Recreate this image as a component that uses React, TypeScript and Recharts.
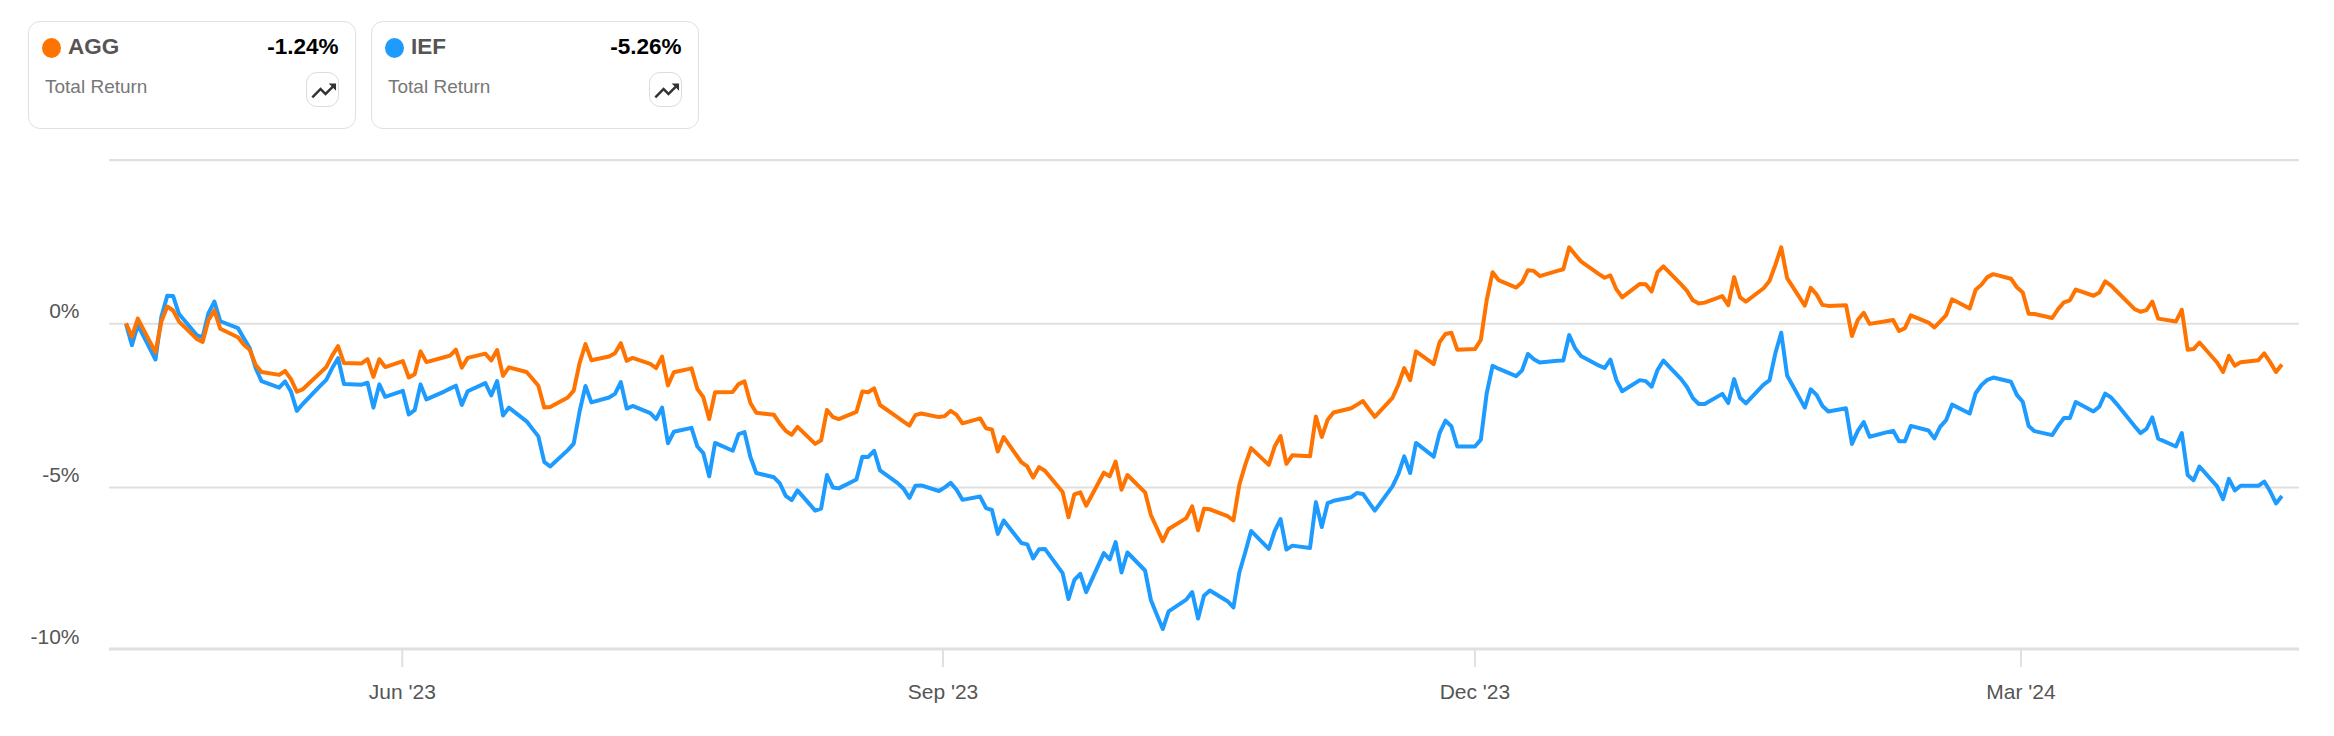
import { CartesianGrid, Line, LineChart, XAxis, YAxis } from "recharts";

const tradingDays = [
  0, 1, 2, 5, 6, 7, 8, 9, 12, 13,
  14, 15, 16, 19, 20, 21, 22, 23, 26, 27,
  28, 29, 30, 33, 34, 35, 36, 37, 40, 41,
  42, 43, 44, 47, 48, 49, 50, 51, 54, 55,
  56, 57, 58, 61, 62, 63, 64, 65, 68, 69,
  70, 71, 72, 75, 76, 77, 78, 79, 82, 83,
  84, 85, 86, 89, 90, 91, 92, 93, 96, 97,
  98, 99, 100, 103, 104, 105, 106, 107, 110, 111,
  112, 113, 114, 117, 118, 119, 120, 121, 124, 125,
  126, 127, 128, 131, 132, 133, 134, 135, 138, 139,
  140, 141, 142, 145, 146, 147, 148, 149, 152, 153,
  154, 155, 156, 159, 160, 161, 162, 163, 166, 167,
  168, 169, 170, 173, 174, 175, 176, 177, 180, 181,
  182, 183, 184, 187, 188, 189, 190, 191, 194, 195,
  196, 197, 198, 201, 202, 203, 204, 205, 208, 209,
  210, 211, 212, 215, 216, 217, 218, 219, 222, 223,
  224, 225, 226, 229, 230, 231, 232, 233, 236, 237,
  238, 239, 240, 243, 244, 245, 246, 247, 250, 251,
  252, 253, 254, 257, 258, 259, 260, 261, 264, 265,
  266, 267, 268, 271, 272, 273, 274, 275, 278, 279,
  280, 281, 282, 285, 286, 287, 288, 289, 292, 293,
  294, 295, 296, 299, 300, 301, 302, 303, 306, 307,
  308, 309, 310, 313, 314, 315, 316, 317, 320, 321,
  322, 323, 324, 327, 328, 329, 330, 331, 334, 335,
  336, 337, 338, 341, 342, 343, 344, 345, 348, 349,
  350, 351, 352, 355, 356, 357, 358, 359, 362, 363,
  364, 365, 366,
];

const aggReturns = [
  0.02, -0.39, 0.16, -0.87, 0.07, 0.53, 0.41, 0.07, -0.46, -0.55,
  0.12, 0.41, -0.15, -0.41, -0.64, -0.79, -1.25, -1.47, -1.56, -1.44,
  -1.69, -2.07, -2.0, -1.49, -1.32, -0.97, -0.68, -1.2, -1.21, -1.08,
  -1.62, -1.08, -1.32, -1.14, -1.64, -1.54, -0.84, -1.17, -1.02, -0.97,
  -0.79, -1.34, -1.04, -0.91, -1.12, -0.8, -1.59, -1.33, -1.47, -1.68,
  -1.89, -2.56, -2.54, -2.25, -2.04, -1.2, -0.62, -1.11, -1.0, -0.9,
  -0.59, -1.13, -1.04, -1.22, -1.35, -1.0, -1.88, -1.48, -1.36, -1.99,
  -2.24, -2.91, -2.09, -2.08, -1.84, -1.76, -2.42, -2.72, -2.78, -3.05,
  -3.27, -3.39, -3.15, -3.67, -3.56, -2.63, -2.85, -2.91, -2.69, -2.07,
  -2.09, -1.97, -2.48, -2.86, -2.99, -3.11, -2.79, -2.74, -2.85, -2.82,
  -2.66, -2.78, -3.04, -2.89, -3.19, -3.23, -3.9, -3.46, -4.23, -4.36,
  -4.7, -4.38, -4.49, -5.14, -5.91, -5.21, -5.15, -5.56, -4.55, -4.66,
  -4.21, -5.07, -4.62, -5.15, -5.85, -6.24, -6.64, -6.27, -5.94, -5.58,
  -6.31, -5.65, -5.67, -5.88, -6.01, -4.92, -4.31, -3.8, -4.31, -3.75,
  -3.43, -4.28, -4.02, -4.05, -2.83, -3.46, -2.93, -2.71, -2.58, -2.47,
  -2.36, -2.61, -2.84, -2.26, -1.86, -1.35, -1.72, -0.84, -1.23, -0.56,
  -0.31, -0.27, -0.79, -0.77, -0.49, 0.73, 1.58, 1.34, 1.11, 1.27,
  1.64, 1.62, 1.46, 1.62, 1.67, 2.34, 2.12, 1.91, 1.53, 1.41,
  1.48, 1.06, 0.81, 1.22, 1.21, 0.99, 1.58, 1.76, 1.21, 1.01,
  0.72, 0.62, 0.65, 0.85, 0.57, 1.43, 0.81, 0.68, 1.09, 1.31,
  1.8, 2.34, 1.4, 0.56, 1.1, 0.9, 0.58, 0.55, 0.57, -0.37,
  0.12, 0.34, 0.0, 0.09, 0.12, -0.22, -0.13, 0.26, 0.04, -0.11,
  0.08, 0.27, 0.75, 0.47, 1.04, 1.2, 1.43, 1.52, 1.38, 1.12,
  0.96, 0.31, 0.3, 0.18, 0.45, 0.66, 0.72, 1.05, 0.86, 0.96,
  1.3, 1.17, 0.99, 0.45, 0.37, 0.42, 0.68, 0.16, 0.07, 0.43,
  -0.79, -0.77, -0.57, -1.18, -1.47, -0.98, -1.28, -1.17, -1.11, -0.9,
  -1.17, -1.47, -1.24,
];

const iefReturns = [
  0.0, -0.65, -0.03, -1.09, 0.22, 0.86, 0.85, 0.3, -0.34, -0.41,
  0.33, 0.68, 0.08, -0.13, -0.44, -0.74, -1.35, -1.75, -1.95, -1.76,
  -2.07, -2.66, -2.45, -1.89, -1.71, -1.35, -1.05, -1.84, -1.86, -1.8,
  -2.56, -1.85, -2.23, -2.05, -2.77, -2.64, -1.85, -2.31, -2.07, -1.98,
  -1.89, -2.48, -2.06, -1.81, -2.19, -1.75, -2.8, -2.56, -2.98, -3.21,
  -3.44, -4.22, -4.36, -3.86, -3.66, -2.68, -1.9, -2.4, -2.25, -2.14,
  -1.78, -2.59, -2.51, -2.73, -2.91, -2.56, -3.65, -3.3, -3.18, -3.75,
  -3.95, -4.66, -3.64, -3.88, -3.37, -3.31, -4.07, -4.56, -4.69, -4.88,
  -5.26, -5.39, -5.09, -5.71, -5.65, -4.62, -5.0, -5.03, -4.76, -4.06,
  -4.07, -3.88, -4.48, -4.87, -5.04, -5.32, -4.95, -4.94, -5.11, -5.0,
  -4.86, -5.07, -5.38, -5.28, -5.63, -5.69, -6.42, -6.01, -6.7, -6.74,
  -7.17, -6.89, -6.88, -7.62, -8.41, -7.83, -7.64, -8.2, -7.01, -7.2,
  -6.67, -7.6, -6.99, -7.54, -8.45, -8.89, -9.33, -8.79, -8.43, -8.2,
  -9.01, -8.31, -8.15, -8.48, -8.67, -7.6, -6.99, -6.33, -6.88, -6.34,
  -5.97, -6.9, -6.78, -6.85, -5.45, -6.21, -5.48, -5.41, -5.3, -5.17,
  -5.2, -5.46, -5.71, -4.97, -4.59, -4.05, -4.56, -3.64, -4.06, -3.34,
  -2.96, -3.13, -3.75, -3.75, -3.54, -2.12, -1.28, -1.37, -1.6, -1.42,
  -0.92, -1.08, -1.18, -1.13, -1.12, -0.34, -0.74, -0.98, -1.27, -1.35,
  -1.09, -1.71, -2.06, -1.72, -1.75, -1.92, -1.41, -1.12, -1.69, -1.93,
  -2.27, -2.45, -2.45, -2.14, -2.42, -1.69, -2.26, -2.43, -1.86, -1.73,
  -0.9, -0.27, -1.58, -2.56, -2.0, -2.17, -2.51, -2.68, -2.58, -3.67,
  -3.27, -3.0, -3.45, -3.31, -3.27, -3.59, -3.59, -3.12, -3.26, -3.5,
  -3.14, -2.94, -2.47, -2.74, -2.12, -1.87, -1.71, -1.64, -1.77, -2.17,
  -2.38, -3.12, -3.28, -3.4, -3.12, -2.88, -2.88, -2.39, -2.68, -2.53,
  -2.13, -2.25, -2.46, -3.13, -3.34, -3.21, -2.86, -3.51, -3.75, -3.34,
  -4.62, -4.78, -4.36, -4.97, -5.36, -4.74, -5.09, -4.95, -4.95, -4.82,
  -5.12, -5.49, -5.26,
];

const xTicks = [46.9, 138.7, 229, 321.7];
const xLabels = ["Jun '23", "Sep '23", "Dec '23", "Mar '24"];
const yTicks = [5, 0, -5, -9.94];
const yLabels = ["", "0%", "-5%", "-10%"];

const cards = [
  { ticker: "AGG", value: "-1.24%", metric: "Total Return", color: "#ff7300", left: 28 },
  { ticker: "IEF", value: "-5.26%", metric: "Total Return", color: "#1e9bff", left: 371 },
];

const data = tradingDays.map((day, i) => ({
  day,
  agg: aggReturns[i],
  ief: iefReturns[i],
}));

const FONT = "'Liberation Sans', Arial, sans-serif";
const GREY = "#e0e0e0";

function YTick({ y, index }: any) {
  return (
    <text x={79.5} y={y - 5.5} textAnchor="end" fontSize={21} fontFamily={FONT} fill="#555">
      {yLabels[index]}
    </text>
  );
}

function XTick({ x, y, index }: any) {
  return (
    <text x={x} y={699} textAnchor="middle" fontSize={21} fontFamily={FONT} fill="#555">
      {xLabels[index]}
    </text>
  );
}

function Card({ ticker, value, metric, color, left }: (typeof cards)[number]) {
  return (
    <div
      style={{
        position: "absolute",
        left,
        top: 21,
        width: 326,
        height: 106,
        border: "1.5px solid #e0e0e0",
        borderRadius: 12,
        fontFamily: FONT,
        background: "#fff",
      }}
    >
      <span
        style={{
          position: "absolute",
          left: 12.5,
          top: 15.5,
          width: 19,
          height: 20,
          borderRadius: "50%",
          background: color,
        }}
      />
      <span style={{ position: "absolute", left: 39, top: 12, fontSize: 22.5, fontWeight: 700, color: "#555" }}>
        {ticker}
      </span>
      <span style={{ position: "absolute", right: 16.5, top: 12, fontSize: 22.5, fontWeight: 700, color: "#000" }}>
        {value}
      </span>
      <span style={{ position: "absolute", left: 16, top: 54, fontSize: 19, color: "#777" }}>{metric}</span>
      <div
        style={{
          position: "absolute",
          right: 16,
          top: 50,
          width: 33.5,
          height: 35,
          border: "1.5px solid #dcdcdc",
          borderRadius: 11,
          boxSizing: "border-box",
        }}
      >
        <svg width={29.5} height={29.5} viewBox="0 0 24 24" style={{ position: "absolute", left: 2, top: 3 }}>
          <path
            fill="#333"
            d="M16 6l2.29 2.29-4.88 4.88-4-4L2 16.59 3.41 18l6-6 4 4 6.3-6.29L22 12V6z"
          />
        </svg>
      </div>
    </div>
  );
}

export default function App() {
  return (
    <div style={{ position: "absolute", left: 0, top: 0, width: 2334, height: 736, background: "#fff", overflow: "hidden" }}>
      <LineChart
        width={2334}
        height={736}
        data={data}
        margin={{ top: 160, right: 35, left: 0, bottom: 27 }}
      >
        <CartesianGrid horizontal vertical={false} stroke={GREY} strokeWidth={2} />
        <XAxis
          dataKey="day"
          type="number"
          domain={[-2.89, 368.9]}
          ticks={xTicks}
          interval={0}
          height={60}
          axisLine={{ stroke: GREY, strokeWidth: 3 }}
          tickLine={{ stroke: GREY, strokeWidth: 2 }}
          tickSize={18}
          tick={<XTick />}
        />
        <YAxis
          type="number"
          domain={[-9.94, 5.01]}
          ticks={yTicks}
          interval={0}
          width={109}
          axisLine={false}
          tickLine={false}
          tick={<YTick />}
        />
        <Line
          dataKey="ief"
          type="linear"
          stroke="#1e9bff"
          strokeWidth={4}
          strokeLinejoin="round"
          dot={false}
          isAnimationActive={false}
        />
        <Line
          dataKey="agg"
          type="linear"
          stroke="#ff7300"
          strokeWidth={4}
          strokeLinejoin="round"
          dot={false}
          isAnimationActive={false}
        />
      </LineChart>
      {cards.map((c) => (
        <Card key={c.ticker} {...c} />
      ))}
    </div>
  );
}
